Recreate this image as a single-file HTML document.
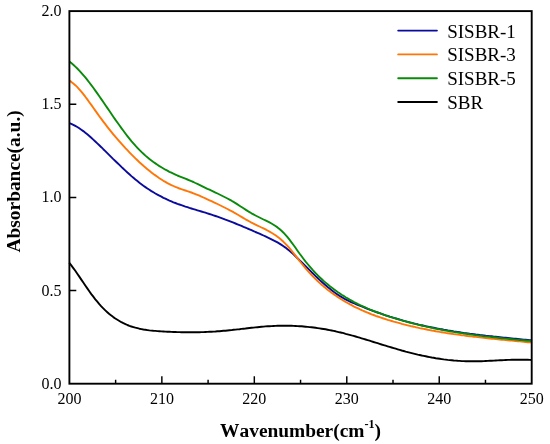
<!DOCTYPE html>
<html><head><meta charset="utf-8"><title>Absorbance</title>
<style>
html,body{margin:0;padding:0;background:#fff;}
svg{display:block;}
text{font-kerning:none;font-family:"Liberation Serif","Times New Roman",serif;fill:#000;}
.t{font-size:16px;}
.lg{font-size:19px;}
.ax{font-size:19.4px;font-weight:bold;}
</style></head><body>
<svg width="550" height="444" viewBox="0 0 550 444">
<rect width="550" height="444" fill="#fff"/>
<path d="M69.3,262.8 L71.3,265.4 L73.3,268.1 L75.3,270.8 L77.3,273.7 L79.3,276.6 L81.3,279.6 L83.3,282.5 L85.3,285.5 L87.3,288.4 L89.3,291.3 L91.3,294.1 L93.3,296.7 L95.3,299.3 L97.3,301.7 L99.3,304.1 L101.3,306.3 L103.3,308.4 L105.3,310.4 L107.3,312.2 L109.3,314.0 L111.3,315.6 L113.3,317.1 L115.3,318.5 L117.4,319.8 L119.4,321.0 L121.4,322.2 L123.4,323.2 L125.4,324.1 L127.4,325.0 L129.4,325.8 L131.4,326.5 L133.4,327.1 L135.4,327.7 L137.4,328.2 L139.4,328.7 L141.4,329.1 L143.4,329.5 L145.4,329.8 L147.4,330.1 L149.4,330.4 L151.4,330.6 L153.4,330.8 L155.4,330.9 L157.4,331.1 L159.4,331.2 L161.4,331.4 L163.4,331.5 L165.4,331.6 L167.4,331.7 L169.4,331.8 L171.4,331.9 L173.4,332.0 L175.4,332.0 L177.4,332.1 L179.4,332.1 L181.4,332.2 L183.4,332.2 L185.4,332.3 L187.4,332.3 L189.4,332.3 L191.4,332.3 L193.4,332.3 L195.4,332.2 L197.4,332.2 L199.4,332.2 L201.4,332.1 L203.4,332.1 L205.4,332.0 L207.4,331.9 L209.5,331.8 L211.5,331.7 L213.5,331.6 L215.5,331.5 L217.5,331.3 L219.5,331.2 L221.5,331.0 L223.5,330.8 L225.5,330.7 L227.5,330.5 L229.5,330.3 L231.5,330.1 L233.5,329.8 L235.5,329.6 L237.5,329.4 L239.5,329.2 L241.5,328.9 L243.5,328.7 L245.5,328.5 L247.5,328.2 L249.5,328.0 L251.5,327.8 L253.5,327.6 L255.5,327.4 L257.5,327.2 L259.5,327.0 L261.5,326.8 L263.5,326.6 L265.5,326.4 L267.5,326.3 L269.5,326.2 L271.5,326.1 L273.5,326.0 L275.5,325.9 L277.5,325.8 L279.5,325.8 L281.5,325.7 L283.5,325.7 L285.5,325.7 L287.5,325.7 L289.5,325.8 L291.5,325.8 L293.5,325.9 L295.5,326.0 L297.5,326.1 L299.5,326.2 L301.6,326.3 L303.6,326.5 L305.6,326.7 L307.6,326.9 L309.6,327.1 L311.6,327.3 L313.6,327.5 L315.6,327.8 L317.6,328.1 L319.6,328.4 L321.6,328.7 L323.6,329.0 L325.6,329.3 L327.6,329.7 L329.6,330.1 L331.6,330.5 L333.6,330.9 L335.6,331.3 L337.6,331.8 L339.6,332.3 L341.6,332.7 L343.6,333.2 L345.6,333.8 L347.6,334.3 L349.6,334.8 L351.6,335.4 L353.6,335.9 L355.6,336.5 L357.6,337.1 L359.6,337.7 L361.6,338.3 L363.6,338.9 L365.6,339.5 L367.6,340.1 L369.6,340.7 L371.6,341.3 L373.6,342.0 L375.6,342.6 L377.6,343.2 L379.6,343.8 L381.6,344.5 L383.6,345.1 L385.6,345.7 L387.6,346.3 L389.6,346.9 L391.6,347.5 L393.7,348.1 L395.7,348.7 L397.7,349.3 L399.7,349.9 L401.7,350.5 L403.7,351.0 L405.7,351.6 L407.7,352.1 L409.7,352.6 L411.7,353.1 L413.7,353.6 L415.7,354.1 L417.7,354.6 L419.7,355.0 L421.7,355.5 L423.7,355.9 L425.7,356.3 L427.7,356.7 L429.7,357.1 L431.7,357.5 L433.7,357.8 L435.7,358.2 L437.7,358.5 L439.7,358.8 L441.7,359.1 L443.7,359.4 L445.7,359.6 L447.7,359.9 L449.7,360.1 L451.7,360.3 L453.7,360.5 L455.7,360.6 L457.7,360.8 L459.7,360.9 L461.7,361.1 L463.7,361.1 L465.7,361.2 L467.7,361.3 L469.7,361.3 L471.7,361.3 L473.7,361.3 L475.7,361.3 L477.7,361.3 L479.7,361.2 L481.7,361.2 L483.7,361.1 L485.8,361.0 L487.8,360.9 L489.8,360.8 L491.8,360.7 L493.8,360.6 L495.8,360.5 L497.8,360.4 L499.8,360.3 L501.8,360.2 L503.8,360.1 L505.8,360.0 L507.8,359.9 L509.8,359.9 L511.8,359.8 L513.8,359.7 L515.8,359.7 L517.8,359.7 L519.8,359.7 L521.8,359.7 L523.8,359.7 L525.8,359.7 L527.8,359.8 L529.8,359.9 L531.8,360.0" fill="none" stroke="#000000" stroke-width="1.9" stroke-linejoin="round"/>
<path d="M69.3,123.2 L71.3,123.9 L73.3,124.8 L75.3,125.9 L77.3,127.0 L79.3,128.3 L81.3,129.7 L83.3,131.1 L85.3,132.7 L87.3,134.3 L89.3,136.0 L91.3,137.8 L93.3,139.6 L95.3,141.5 L97.3,143.4 L99.3,145.3 L101.3,147.2 L103.3,149.2 L105.3,151.1 L107.3,153.1 L109.3,155.1 L111.3,157.1 L113.3,159.1 L115.3,161.0 L117.4,163.0 L119.4,164.9 L121.4,166.9 L123.4,168.8 L125.4,170.6 L127.4,172.5 L129.4,174.3 L131.4,176.1 L133.4,177.8 L135.4,179.5 L137.4,181.1 L139.4,182.7 L141.4,184.2 L143.4,185.7 L145.4,187.1 L147.4,188.5 L149.4,189.8 L151.4,191.1 L153.4,192.3 L155.4,193.5 L157.4,194.6 L159.4,195.7 L161.4,196.7 L163.4,197.8 L165.4,198.7 L167.4,199.7 L169.4,200.6 L171.4,201.4 L173.4,202.3 L175.4,203.0 L177.4,203.8 L179.4,204.5 L181.4,205.2 L183.4,205.9 L185.4,206.6 L187.4,207.2 L189.4,207.9 L191.4,208.5 L193.4,209.1 L195.4,209.7 L197.4,210.3 L199.4,210.9 L201.4,211.5 L203.4,212.1 L205.4,212.7 L207.4,213.3 L209.5,214.0 L211.5,214.6 L213.5,215.3 L215.5,216.0 L217.5,216.7 L219.5,217.4 L221.5,218.1 L223.5,218.8 L225.5,219.6 L227.5,220.3 L229.5,221.1 L231.5,221.9 L233.5,222.7 L235.5,223.5 L237.5,224.3 L239.5,225.1 L241.5,225.9 L243.5,226.8 L245.5,227.6 L247.5,228.5 L249.5,229.3 L251.5,230.2 L253.5,231.1 L255.5,232.0 L257.5,232.8 L259.5,233.7 L261.5,234.6 L263.5,235.5 L265.5,236.4 L267.5,237.4 L269.5,238.3 L271.5,239.3 L273.5,240.3 L275.5,241.3 L277.5,242.4 L279.5,243.6 L281.5,244.9 L283.5,246.2 L285.5,247.6 L287.5,249.2 L289.5,250.8 L291.5,252.6 L293.5,254.4 L295.5,256.3 L297.5,258.2 L299.5,260.2 L301.6,262.2 L303.6,264.2 L305.6,266.2 L307.6,268.2 L309.6,270.2 L311.6,272.2 L313.6,274.1 L315.6,276.1 L317.6,278.0 L319.6,279.9 L321.6,281.7 L323.6,283.5 L325.6,285.3 L327.6,287.0 L329.6,288.6 L331.6,290.2 L333.6,291.8 L335.6,293.2 L337.6,294.6 L339.6,295.9 L341.6,297.1 L343.6,298.3 L345.6,299.3 L347.6,300.4 L349.6,301.3 L351.6,302.3 L353.6,303.1 L355.6,304.0 L357.6,304.8 L359.6,305.6 L361.6,306.4 L363.6,307.2 L365.6,308.0 L367.6,308.8 L369.6,309.6 L371.6,310.3 L373.6,311.1 L375.6,311.8 L377.6,312.5 L379.6,313.2 L381.6,313.9 L383.6,314.6 L385.6,315.3 L387.6,315.9 L389.6,316.6 L391.6,317.2 L393.7,317.8 L395.7,318.4 L397.7,319.0 L399.7,319.6 L401.7,320.2 L403.7,320.8 L405.7,321.3 L407.7,321.8 L409.7,322.4 L411.7,322.9 L413.7,323.4 L415.7,323.9 L417.7,324.3 L419.7,324.8 L421.7,325.3 L423.7,325.7 L425.7,326.2 L427.7,326.6 L429.7,327.0 L431.7,327.4 L433.7,327.8 L435.7,328.2 L437.7,328.6 L439.7,329.0 L441.7,329.3 L443.7,329.7 L445.7,330.0 L447.7,330.4 L449.7,330.7 L451.7,331.0 L453.7,331.4 L455.7,331.7 L457.7,332.0 L459.7,332.3 L461.7,332.6 L463.7,332.9 L465.7,333.1 L467.7,333.4 L469.7,333.7 L471.7,333.9 L473.7,334.2 L475.7,334.5 L477.7,334.7 L479.7,335.0 L481.7,335.2 L483.7,335.4 L485.8,335.7 L487.8,335.9 L489.8,336.1 L491.8,336.3 L493.8,336.6 L495.8,336.8 L497.8,337.0 L499.8,337.2 L501.8,337.4 L503.8,337.6 L505.8,337.8 L507.8,338.0 L509.8,338.2 L511.8,338.4 L513.8,338.6 L515.8,338.8 L517.8,339.0 L519.8,339.2 L521.8,339.4 L523.8,339.6 L525.8,339.8 L527.8,340.0 L529.8,340.2 L531.8,340.3" fill="none" stroke="#0a0a9c" stroke-width="1.9" stroke-linejoin="round"/>
<path d="M69.3,80.6 L71.3,81.9 L73.3,83.5 L75.3,85.2 L77.3,87.2 L79.3,89.4 L81.3,91.7 L83.3,94.2 L85.3,96.7 L87.3,99.4 L89.3,102.2 L91.3,104.9 L93.3,107.8 L95.3,110.6 L97.3,113.4 L99.3,116.2 L101.3,118.9 L103.3,121.6 L105.3,124.2 L107.3,126.8 L109.3,129.3 L111.3,131.8 L113.3,134.3 L115.3,136.7 L117.4,139.1 L119.4,141.4 L121.4,143.7 L123.4,145.9 L125.4,148.1 L127.4,150.2 L129.4,152.3 L131.4,154.4 L133.4,156.4 L135.4,158.4 L137.4,160.3 L139.4,162.2 L141.4,164.0 L143.4,165.8 L145.4,167.5 L147.4,169.2 L149.4,170.8 L151.4,172.4 L153.4,174.0 L155.4,175.4 L157.4,176.8 L159.4,178.2 L161.4,179.5 L163.4,180.8 L165.4,181.9 L167.4,183.1 L169.4,184.1 L171.4,185.1 L173.4,186.0 L175.4,186.9 L177.4,187.7 L179.4,188.5 L181.4,189.2 L183.4,189.8 L185.4,190.5 L187.4,191.2 L189.4,191.8 L191.4,192.5 L193.4,193.3 L195.4,194.1 L197.4,194.9 L199.4,195.7 L201.4,196.6 L203.4,197.5 L205.4,198.4 L207.4,199.4 L209.5,200.3 L211.5,201.2 L213.5,202.2 L215.5,203.1 L217.5,204.0 L219.5,205.0 L221.5,206.0 L223.5,207.0 L225.5,208.0 L227.5,209.0 L229.5,210.1 L231.5,211.1 L233.5,212.2 L235.5,213.4 L237.5,214.5 L239.5,215.7 L241.5,216.9 L243.5,218.1 L245.5,219.3 L247.5,220.4 L249.5,221.5 L251.5,222.6 L253.5,223.6 L255.5,224.6 L257.5,225.6 L259.5,226.5 L261.5,227.5 L263.5,228.4 L265.5,229.4 L267.5,230.5 L269.5,231.6 L271.5,232.8 L273.5,234.0 L275.5,235.3 L277.5,236.8 L279.5,238.3 L281.5,240.0 L283.5,241.8 L285.5,243.8 L287.5,245.9 L289.5,248.2 L291.5,250.6 L293.5,253.1 L295.5,255.7 L297.5,258.3 L299.5,260.9 L301.6,263.5 L303.6,265.9 L305.6,268.3 L307.6,270.6 L309.6,272.9 L311.6,275.0 L313.6,277.1 L315.6,279.1 L317.6,281.0 L319.6,282.9 L321.6,284.7 L323.6,286.4 L325.6,288.0 L327.6,289.7 L329.6,291.2 L331.6,292.7 L333.6,294.1 L335.6,295.5 L337.6,296.9 L339.6,298.2 L341.6,299.5 L343.6,300.7 L345.6,301.9 L347.6,303.0 L349.6,304.1 L351.6,305.2 L353.6,306.3 L355.6,307.3 L357.6,308.2 L359.6,309.2 L361.6,310.1 L363.6,311.0 L365.6,311.8 L367.6,312.7 L369.6,313.5 L371.6,314.3 L373.6,315.0 L375.6,315.8 L377.6,316.5 L379.6,317.2 L381.6,317.8 L383.6,318.5 L385.6,319.1 L387.6,319.8 L389.6,320.4 L391.6,321.0 L393.7,321.6 L395.7,322.1 L397.7,322.7 L399.7,323.2 L401.7,323.8 L403.7,324.3 L405.7,324.8 L407.7,325.3 L409.7,325.8 L411.7,326.3 L413.7,326.7 L415.7,327.2 L417.7,327.6 L419.7,328.1 L421.7,328.5 L423.7,328.9 L425.7,329.3 L427.7,329.7 L429.7,330.1 L431.7,330.5 L433.7,330.8 L435.7,331.2 L437.7,331.5 L439.7,331.9 L441.7,332.2 L443.7,332.5 L445.7,332.9 L447.7,333.2 L449.7,333.5 L451.7,333.8 L453.7,334.1 L455.7,334.4 L457.7,334.6 L459.7,334.9 L461.7,335.2 L463.7,335.4 L465.7,335.7 L467.7,336.0 L469.7,336.2 L471.7,336.4 L473.7,336.7 L475.7,336.9 L477.7,337.1 L479.7,337.4 L481.7,337.6 L483.7,337.8 L485.8,338.0 L487.8,338.2 L489.8,338.5 L491.8,338.7 L493.8,338.9 L495.8,339.1 L497.8,339.3 L499.8,339.5 L501.8,339.7 L503.8,339.9 L505.8,340.1 L507.8,340.3 L509.8,340.5 L511.8,340.6 L513.8,340.8 L515.8,341.0 L517.8,341.2 L519.8,341.4 L521.8,341.6 L523.8,341.8 L525.8,342.0 L527.8,342.2 L529.8,342.4 L531.8,342.6" fill="none" stroke="#ff7606" stroke-width="1.9" stroke-linejoin="round"/>
<path d="M69.3,61.5 L71.3,63.1 L73.3,64.7 L75.3,66.6 L77.3,68.5 L79.3,70.6 L81.3,72.8 L83.3,75.1 L85.3,77.4 L87.3,79.9 L89.3,82.5 L91.3,85.1 L93.3,87.8 L95.3,90.6 L97.3,93.4 L99.3,96.2 L101.3,99.1 L103.3,102.0 L105.3,105.0 L107.3,107.9 L109.3,110.8 L111.3,113.8 L113.3,116.7 L115.3,119.6 L117.4,122.5 L119.4,125.3 L121.4,128.1 L123.4,130.8 L125.4,133.5 L127.4,136.1 L129.4,138.6 L131.4,141.1 L133.4,143.4 L135.4,145.7 L137.4,147.8 L139.4,149.9 L141.4,151.9 L143.4,153.7 L145.4,155.6 L147.4,157.3 L149.4,158.9 L151.4,160.5 L153.4,162.0 L155.4,163.4 L157.4,164.8 L159.4,166.1 L161.4,167.3 L163.4,168.5 L165.4,169.7 L167.4,170.7 L169.4,171.8 L171.4,172.7 L173.4,173.7 L175.4,174.6 L177.4,175.5 L179.4,176.3 L181.4,177.1 L183.4,177.9 L185.4,178.7 L187.4,179.5 L189.4,180.3 L191.4,181.2 L193.4,182.0 L195.4,183.0 L197.4,183.9 L199.4,184.8 L201.4,185.8 L203.4,186.8 L205.4,187.8 L207.4,188.8 L209.5,189.7 L211.5,190.7 L213.5,191.6 L215.5,192.6 L217.5,193.5 L219.5,194.5 L221.5,195.5 L223.5,196.5 L225.5,197.5 L227.5,198.5 L229.5,199.6 L231.5,200.7 L233.5,201.9 L235.5,203.1 L237.5,204.4 L239.5,205.7 L241.5,207.0 L243.5,208.3 L245.5,209.6 L247.5,210.9 L249.5,212.1 L251.5,213.3 L253.5,214.4 L255.5,215.5 L257.5,216.5 L259.5,217.5 L261.5,218.5 L263.5,219.5 L265.5,220.4 L267.5,221.4 L269.5,222.4 L271.5,223.5 L273.5,224.7 L275.5,226.0 L277.5,227.4 L279.5,229.0 L281.5,230.8 L283.5,232.7 L285.5,234.9 L287.5,237.2 L289.5,239.7 L291.5,242.3 L293.5,245.0 L295.5,247.8 L297.5,250.7 L299.5,253.5 L301.6,256.3 L303.6,259.0 L305.6,261.6 L307.6,264.0 L309.6,266.4 L311.6,268.7 L313.6,271.0 L315.6,273.1 L317.6,275.2 L319.6,277.1 L321.6,279.0 L323.6,280.9 L325.6,282.6 L327.6,284.3 L329.6,286.0 L331.6,287.5 L333.6,289.1 L335.6,290.5 L337.6,292.0 L339.6,293.3 L341.6,294.7 L343.6,295.9 L345.6,297.2 L347.6,298.4 L349.6,299.6 L351.6,300.7 L353.6,301.8 L355.6,302.8 L357.6,303.9 L359.6,304.9 L361.6,305.8 L363.6,306.7 L365.6,307.6 L367.6,308.5 L369.6,309.4 L371.6,310.2 L373.6,311.0 L375.6,311.7 L377.6,312.5 L379.6,313.2 L381.6,313.9 L383.6,314.6 L385.6,315.3 L387.6,316.0 L389.6,316.6 L391.6,317.3 L393.7,317.9 L395.7,318.5 L397.7,319.1 L399.7,319.7 L401.7,320.3 L403.7,320.9 L405.7,321.4 L407.7,322.0 L409.7,322.5 L411.7,323.0 L413.7,323.6 L415.7,324.1 L417.7,324.6 L419.7,325.0 L421.7,325.5 L423.7,326.0 L425.7,326.4 L427.7,326.9 L429.7,327.3 L431.7,327.7 L433.7,328.2 L435.7,328.6 L437.7,329.0 L439.7,329.4 L441.7,329.7 L443.7,330.1 L445.7,330.5 L447.7,330.8 L449.7,331.2 L451.7,331.5 L453.7,331.9 L455.7,332.2 L457.7,332.5 L459.7,332.8 L461.7,333.1 L463.7,333.5 L465.7,333.7 L467.7,334.0 L469.7,334.3 L471.7,334.6 L473.7,334.9 L475.7,335.1 L477.7,335.4 L479.7,335.7 L481.7,335.9 L483.7,336.2 L485.8,336.4 L487.8,336.6 L489.8,336.9 L491.8,337.1 L493.8,337.3 L495.8,337.5 L497.8,337.8 L499.8,338.0 L501.8,338.2 L503.8,338.4 L505.8,338.6 L507.8,338.8 L509.8,339.0 L511.8,339.2 L513.8,339.4 L515.8,339.6 L517.8,339.8 L519.8,340.0 L521.8,340.1 L523.8,340.3 L525.8,340.5 L527.8,340.7 L529.8,340.9 L531.8,341.0" fill="none" stroke="#0a8a0a" stroke-width="1.9" stroke-linejoin="round"/>
<rect x="69.4" y="11.1" width="462.3" height="372.6" fill="none" stroke="#000" stroke-width="1.9"/>
<path d="M115.63,383.7v-3.9 M161.86,383.7v-7.5 M208.09,383.7v-3.9 M254.32,383.7v-7.5 M300.55,383.7v-3.9 M346.78,383.7v-7.5 M393.01,383.7v-3.9 M439.24,383.7v-7.5 M485.47,383.7v-3.9 M69.4,290.55h6.9 M69.4,197.40h6.9 M69.4,104.25h6.9" stroke="#000" stroke-width="1.45" fill="none"/>
<text class="t" x="69.4" y="404" text-anchor="middle">200</text>
<text class="t" x="161.9" y="404" text-anchor="middle">210</text>
<text class="t" x="254.3" y="404" text-anchor="middle">220</text>
<text class="t" x="346.8" y="404" text-anchor="middle">230</text>
<text class="t" x="439.2" y="404" text-anchor="middle">240</text>
<text class="t" x="531.7" y="404" text-anchor="middle">250</text>
<text class="t" x="61.6" y="388.7" text-anchor="end">0.0</text>
<text class="t" x="61.6" y="295.6" text-anchor="end">0.5</text>
<text class="t" x="61.6" y="202.4" text-anchor="end">1.0</text>
<text class="t" x="61.6" y="109.2" text-anchor="end">1.5</text>
<text class="t" x="61.6" y="16.1" text-anchor="end">2.0</text>
<text class="ax" x="300.6" y="436.5" text-anchor="middle">Wavenumber(cm<tspan font-size="12.2" dy="-8.5">-1</tspan><tspan dy="8.5">)</tspan></text>
<text class="ax" transform="translate(20,181.4) rotate(-90)" text-anchor="middle">Absorbance(a.u.)</text>
<path d="M398.2,30.6H436.9" stroke="#0a0a9c" stroke-width="1.9" stroke-linecap="round"/>
<text class="lg" x="447.2" y="37.5">SISBR-1</text>
<path d="M398.2,54.4H436.9" stroke="#ff7606" stroke-width="1.9" stroke-linecap="round"/>
<text class="lg" x="447.2" y="61.3">SISBR-3</text>
<path d="M398.2,78.2H436.9" stroke="#0a8a0a" stroke-width="1.9" stroke-linecap="round"/>
<text class="lg" x="447.2" y="85.1">SISBR-5</text>
<path d="M398.2,102.0H436.9" stroke="#000000" stroke-width="1.9" stroke-linecap="round"/>
<text class="lg" x="447.2" y="108.9">SBR</text>
</svg></body></html>
